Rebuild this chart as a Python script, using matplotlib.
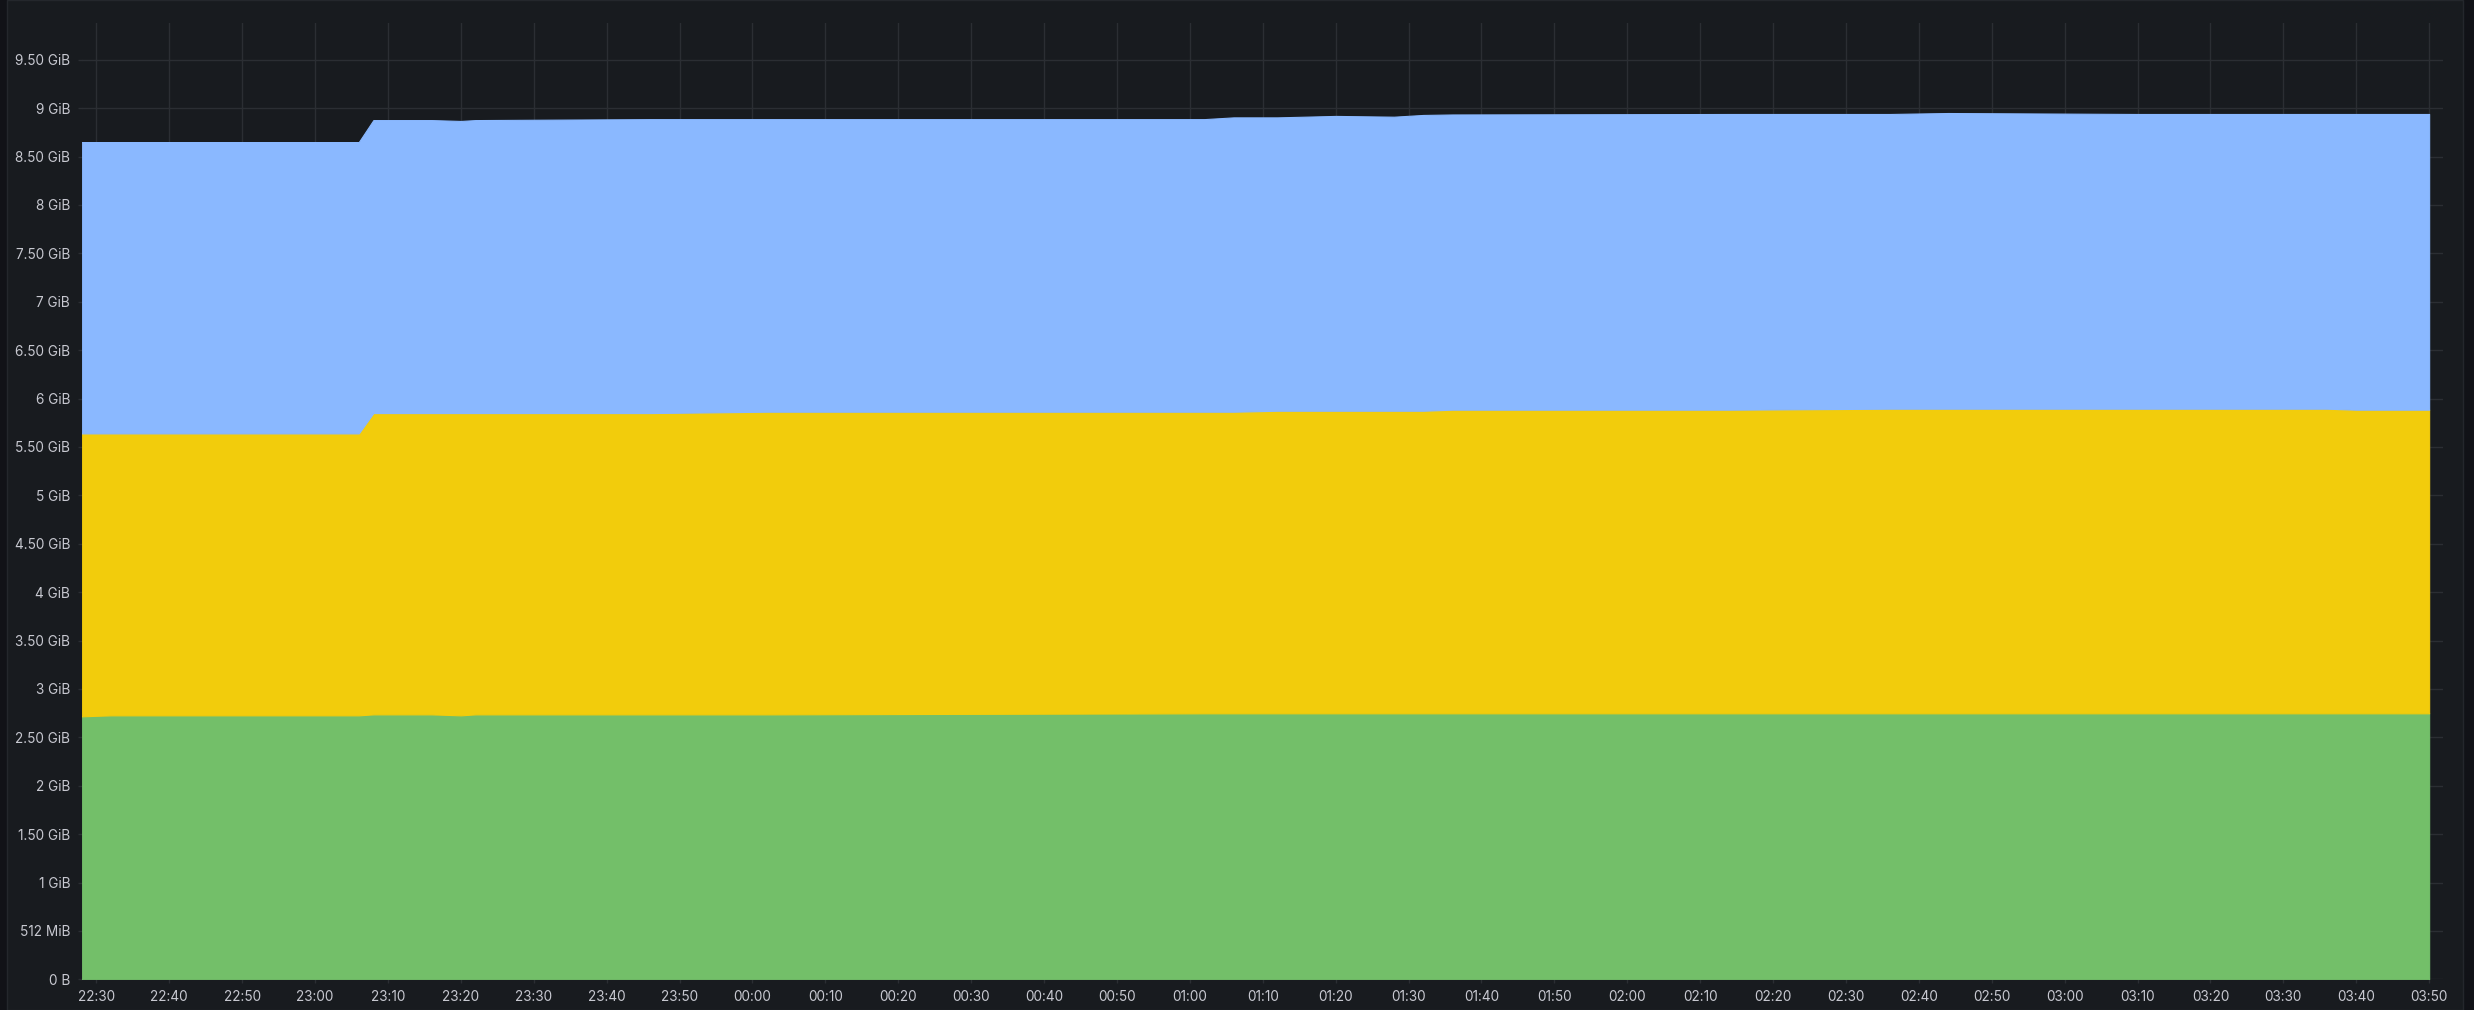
import matplotlib
matplotlib.use("Agg")
import matplotlib.pyplot as plt
import matplotlib.dates as mdates
from matplotlib.patches import Rectangle
import pandas as pd

# sample times (day 1 evening -> day 2 early morning)
times = ["2024-01-01 22:28", "2024-01-01 22:32", "2024-01-01 23:06", "2024-01-01 23:08",
         "2024-01-01 23:16", "2024-01-01 23:20", "2024-01-01 23:22", "2024-01-01 23:46",
         "2024-01-02 00:02", "2024-01-02 01:02", "2024-01-02 01:06", "2024-01-02 01:12",
         "2024-01-02 01:20", "2024-01-02 01:28", "2024-01-02 01:32", "2024-01-02 01:36",
         "2024-01-02 02:14", "2024-01-02 02:36", "2024-01-02 02:44", "2024-01-02 03:10",
         "2024-01-02 03:36", "2024-01-02 03:40", "2024-01-02 03:50"]

# memory per series in GiB (stacked bottom -> top)
green_gib = [2.717, 2.727, 2.727, 2.737, 2.737, 2.727, 2.737, 2.737, 2.737, 2.748, 2.748, 2.748,
             2.748, 2.748, 2.748, 2.748, 2.748, 2.748, 2.748, 2.748, 2.748, 2.748, 2.748]
yellow_gib = [2.923, 2.913, 2.913, 3.113, 3.113, 3.123, 3.113, 3.113, 3.127, 3.116, 3.116, 3.126,
              3.126, 3.126, 3.126, 3.137, 3.137, 3.147, 3.147, 3.147, 3.147, 3.137, 3.137]
blue_gib = [3.010, 3.010, 3.010, 3.027, 3.027, 3.018, 3.027, 3.037, 3.023, 3.023, 3.041, 3.031,
            3.046, 3.038, 3.056, 3.050, 3.055, 3.045, 3.055, 3.045, 3.045, 3.055, 3.055]

y_ticks = [0, 0.5, 1, 1.5, 2, 2.5, 3, 3.5, 4, 4.5, 5, 5.5, 6, 6.5, 7, 7.5, 8, 8.5, 9, 9.5]
y_tick_labels = ["0 B", "512 MiB", "1 GiB", "1.50 GiB", "2 GiB", "2.50 GiB", "3 GiB", "3.50 GiB",
                 "4 GiB", "4.50 GiB", "5 GiB", "5.50 GiB", "6 GiB", "6.50 GiB", "7 GiB",
                 "7.50 GiB", "8 GiB", "8.50 GiB", "9 GiB", "9.50 GiB"]

x_start, x_end = "2024-01-01 22:28:02", "2024-01-02 03:51:54"
y_max = 9.88

PANEL_BG = "#181b1f"
OUTER_BG = "#111217"
GRID = "#2b2e33"
TEXT = "#c7c8d0"
COLORS = ["#73bf69", "#f2cc0c", "#8ab8ff"]

plt.rcParams["font.family"] = ["Inter", "DejaVu Sans"]

W, H = 2474, 1010
fig = plt.figure(figsize=(W / 100, H / 100), dpi=100, facecolor=OUTER_BG)

# panel card
fig.patches.append(Rectangle((7 / W, 0), (2463 - 7) / W, 1, transform=fig.transFigure,
                             facecolor=PANEL_BG, edgecolor="#24272c", linewidth=1, zorder=-5))

left, right, bottom, top = 82, 2443, 979.3, 23
ax = fig.add_axes([left / W, 1 - bottom / H, (right - left) / W, (bottom - top) / H])
ax.set_zorder(2)
ax.set_facecolor("none")

t = pd.to_datetime(times)
ax.stackplot(t, green_gib, yellow_gib, blue_gib, colors=COLORS,
             edgecolor="face", linewidth=0.8, zorder=3)

ax.set_xlim(pd.Timestamp(x_start), pd.Timestamp(x_end))
ax.set_ylim(0, y_max)

ax.xaxis.set_major_locator(mdates.MinuteLocator(byminute=range(0, 60, 10)))
ax.xaxis.set_major_formatter(mdates.DateFormatter("%H:%M"))
ax.set_yticks(y_ticks)
ax.set_yticklabels(y_tick_labels)

ax.grid(True, color=GRID, linewidth=1, zorder=1)
ax.set_axisbelow(True)
for s in ax.spines.values():
    s.set_visible(False)
ax.tick_params(axis="both", colors=GRID, labelcolor=TEXT, labelsize=9.8, length=3, width=1)
ax.tick_params(axis="y", pad=5.5)
ax.tick_params(axis="x", pad=4.5)

fig.savefig("out.png", dpi=100, facecolor=OUTER_BG)
